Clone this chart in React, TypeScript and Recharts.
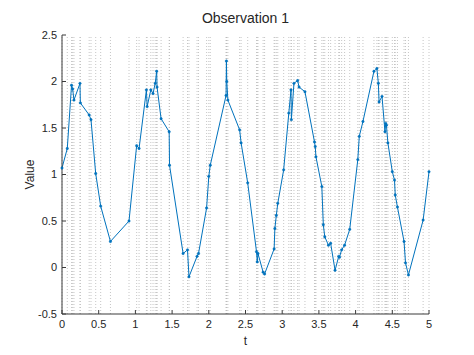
import { Line, LineChart, ReferenceLine, XAxis, YAxis } from "recharts";

// observation times and values
const tValues = [
  0, 0.072, 0.13, 0.145, 0.163, 0.245, 0.25, 0.37, 0.395, 0.459, 0.527, 0.66, 0.913, 1.017, 1.05,
  1.15, 1.16, 1.21, 1.24, 1.27, 1.29, 1.295, 1.35, 1.46, 1.465, 1.65, 1.71, 1.73, 1.84, 1.86, 1.97,
  2.0, 2.02, 2.235, 2.24, 2.245, 2.26, 2.42, 2.44, 2.53, 2.65, 2.66, 2.67, 2.74, 2.76, 2.89, 2.9,
  2.92, 2.94, 3.02, 3.09, 3.12, 3.125, 3.16, 3.21, 3.23, 3.31, 3.44, 3.45, 3.46, 3.54, 3.56, 3.58,
  3.63, 3.66, 3.72, 3.77, 3.78, 3.81, 3.85, 3.92, 4.03, 4.05, 4.1, 4.25, 4.29, 4.31, 4.32, 4.36,
  4.4, 4.41, 4.42, 4.44, 4.5, 4.53, 4.54, 4.57, 4.66, 4.68, 4.72, 4.92, 5.0,
];
const values = [
  1.07, 1.28, 1.96, 1.92, 1.8, 1.98, 1.77, 1.64, 1.59, 1.01, 0.66, 0.28, 0.5, 1.31, 1.28,
  1.91, 1.73, 1.91, 1.87, 1.98, 2.11, 1.94, 1.6, 1.46, 1.1, 0.15, 0.19, -0.1, 0.12, 0.15, 0.64,
  0.98, 1.1, 1.85, 2.22, 2.0, 1.8, 1.48, 1.34, 0.91, 0.17, 0.06, 0.15, -0.05, -0.07, 0.2, 0.42,
  0.56, 0.69, 1.05, 1.66, 1.91, 1.59, 1.98, 2.01, 1.94, 1.89, 1.35, 1.3, 1.19, 0.87, 0.46, 0.33,
  0.24, 0.26, -0.03, 0.12, 0.11, 0.19, 0.24, 0.41, 1.16, 1.41, 1.57, 2.11, 2.14, 1.98, 1.78, 1.84,
  1.46, 1.55, 1.53, 1.34, 1.03, 0.94, 0.78, 0.65, 0.28, 0.05, -0.08, 0.51, 1.03,
];
const xTicks = [0, 0.5, 1, 1.5, 2, 2.5, 3, 3.5, 4, 4.5, 5];
const yTicks = [-0.5, 0, 0.5, 1, 1.5, 2, 2.5];
const title = "Observation 1";

const data = tValues.map((t, i) => ({ t, value: values[i] }));

const font = "'Liberation Sans', Arial, Helvetica, sans-serif";
const axisColor = "#3a3a3a";
const tick = { fill: "#262626", fontSize: 11, fontFamily: font };
const blank = () => "";

export default function App() {
  return (
    <div style={{ position: "absolute", left: 0, top: 0, width: 474, height: 355, background: "#fff" }}>
      <div
        style={{
          position: "absolute",
          left: 62,
          width: 367,
          top: 9,
          textAlign: "center",
          fontFamily: font,
          fontSize: 14,
          color: "#262626",
          lineHeight: "18px",
        }}
      >
        {title}
      </div>
      <LineChart
        width={474}
        height={355}
        data={data}
        margin={{ top: 35, right: 45, bottom: 11, left: 22 }}
      >
        <XAxis
          dataKey="t"
          type="number"
          domain={[0, 5]}
          ticks={xTicks}
          stroke={axisColor}
          tick={tick}
          tickSize={-4}
          tickMargin={10}
          height={30}
          label={{ value: "t", position: "insideBottom", offset: -1, fill: "#262626", fontSize: 12, fontFamily: font }}
        />
        <XAxis
          xAxisId="top"
          orientation="top"
          dataKey="t"
          type="number"
          domain={[0, 5]}
          ticks={xTicks}
          stroke={axisColor}
          tickFormatter={blank}
          tickSize={-4}
          height={0}
        />
        <YAxis
          type="number"
          domain={[-0.5, 2.5]}
          ticks={yTicks}
          stroke={axisColor}
          tick={tick}
          tickSize={-4}
          tickMargin={9}
          width={40}
          label={{
            value: "Value",
            angle: -90,
            position: "insideLeft",
            offset: 8,
            fill: "#262626",
            fontSize: 12,
            fontFamily: font,
            style: { textAnchor: "middle" },
          }}
        />
        <YAxis
          yAxisId="right"
          orientation="right"
          type="number"
          domain={[-0.5, 2.5]}
          ticks={yTicks}
          stroke={axisColor}
          tickFormatter={blank}
          tickSize={-4}
          width={0}
        />
        {tValues.map((t) => (
          <ReferenceLine key={t} x={t} stroke="#b8b8b8" strokeWidth={0.8} strokeDasharray="1 2" />
        ))}
        <Line
          dataKey="value"
          stroke="#0072BD"
          strokeWidth={1}
          dot={{ r: 1.2, fill: "#0072BD", stroke: "#0072BD", strokeWidth: 0.5 }}
          isAnimationActive={false}
        />
      </LineChart>
    </div>
  );
}
